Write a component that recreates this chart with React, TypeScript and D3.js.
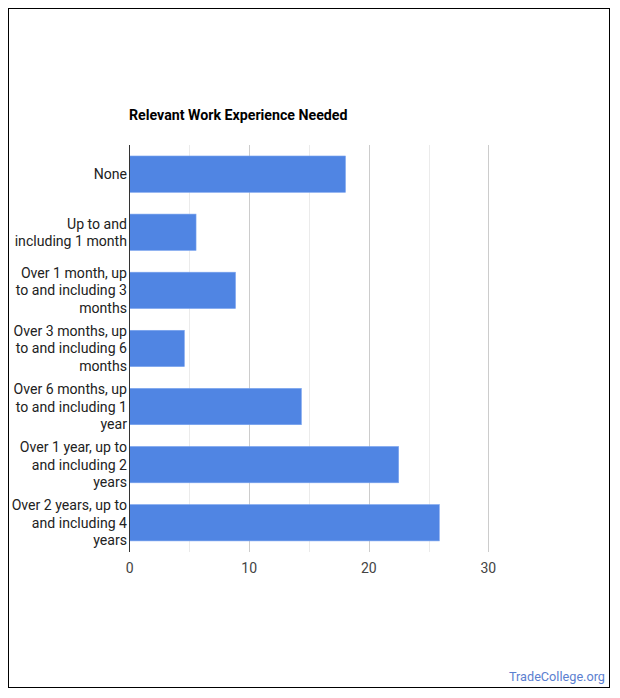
import { useEffect, useRef } from 'react';
import * as d3 from 'd3';

const categories = [
  'None',
  'Up to and including 1 month',
  'Over 1 month, up to and including 3 months',
  'Over 3 months, up to and including 6 months',
  'Over 6 months, up to and including 1 year',
  'Over 1 year, up to and including 2 years',
  'Over 2 years, up to and including 4 years',
];

const labelLines = [
  ['None'],
  ['Up to and', 'including 1 month'],
  ['Over 1 month, up', 'to and including 3', 'months'],
  ['Over 3 months, up', 'to and including 6', 'months'],
  ['Over 6 months, up', 'to and including 1', 'year'],
  ['Over 1 year, up to', 'and including 2', 'years'],
  ['Over 2 years, up to', 'and including 4', 'years'],
];

const values = [18.05, 5.55, 8.85, 4.57, 14.36, 22.5, 25.9];

const majorTicks = [0, 10, 20, 30];
const minorTicks = [5, 15, 25];

const W = 620;
const H = 698;
const FONT = 'Roboto, Arial, sans-serif';

export default function App() {
  const svgRef = useRef<SVGSVGElement>(null);

  useEffect(() => {
    const svg = d3.select(svgRef.current);
    svg.selectAll('*').remove();

    const x = d3.scaleLinear().domain([0, 30]).range([129.7, 488.3]);
    const y = d3
      .scaleBand<string>()
      .domain(categories)
      .range([145.1, 551.8])
      .paddingInner(0.375)
      .paddingOuter(0.1875);

    svg
      .append('rect')
      .attr('x', 8.5)
      .attr('y', 8.5)
      .attr('width', 601)
      .attr('height', 679)
      .attr('fill', '#fff')
      .attr('stroke', '#000')
      .attr('stroke-width', 1);

    svg
      .append('text')
      .attr('x', 129)
      .attr('y', 120)
      .attr('font-family', FONT)
      .attr('font-size', 14.2)
      .attr('font-weight', 'bold')
      .attr('fill', '#000')
      .text('Relevant Work Experience Needed');

    const grid = svg.append('g');
    grid
      .selectAll('line.minor')
      .data(minorTicks)
      .join('line')
      .attr('class', 'minor')
      .attr('x1', (d) => Math.round(x(d)) + 0.5)
      .attr('x2', (d) => Math.round(x(d)) + 0.5)
      .attr('y1', 145)
      .attr('y2', 552)
      .attr('stroke', '#ebebeb');
    grid
      .selectAll('line.major')
      .data(majorTicks.slice(1))
      .join('line')
      .attr('class', 'major')
      .attr('x1', (d) => Math.round(x(d)) + 0.5)
      .attr('x2', (d) => Math.round(x(d)) + 0.5)
      .attr('y1', 145)
      .attr('y2', 552)
      .attr('stroke', '#cccccc');

    svg
      .append('g')
      .selectAll('rect')
      .data(values)
      .join('rect')
      .attr('x', x(0))
      .attr('y', (_, i) => y(categories[i])!)
      .attr('width', (d) => x(d) - x(0))
      .attr('height', y.bandwidth())
      .attr('fill', '#5085e3')
      .attr('stroke', '#7aa3ee')
      .attr('stroke-width', 0.6);

    svg
      .append('line')
      .attr('x1', 129.5)
      .attr('x2', 129.5)
      .attr('y1', 145)
      .attr('y2', 552)
      .attr('stroke', '#333')
      .attr('stroke-width', 1);

    svg
      .append('g')
      .selectAll('text')
      .data(majorTicks)
      .join('text')
      .attr('x', (d) => x(d))
      .attr('y', 573)
      .attr('text-anchor', 'middle')
      .attr('font-family', FONT)
      .attr('font-size', 14)
      .attr('fill', '#444')
      .text((d) => d);

    const lh = 17.4;
    const labels = svg.append('g');
    labelLines.forEach((lines, i) => {
      const cy = y(categories[i])! + y.bandwidth() / 2;
      const t = labels
        .append('text')
        .attr('font-family', FONT)
        .attr('font-size', 14.1)
        .attr('fill', '#222')
        .attr('text-anchor', 'end');
      lines.forEach((ln, j) => {
        t.append('tspan')
          .attr('x', 127)
          .attr('y', cy + (j - (lines.length - 1) / 2) * lh + 5)
          .text(ln);
      });
    });

    svg
      .append('text')
      .attr('x', 605)
      .attr('y', 681)
      .attr('text-anchor', 'end')
      .attr('font-family', FONT)
      .attr('font-size', 12.7)
      .attr('fill', '#5b80d0')
      .text('TradeCollege.org');
  }, []);

  return (
    <svg
      ref={svgRef}
      width={W}
      height={H}
      style={{ position: 'absolute', left: 0, top: 0, display: 'block' }}
    />
  );
}
